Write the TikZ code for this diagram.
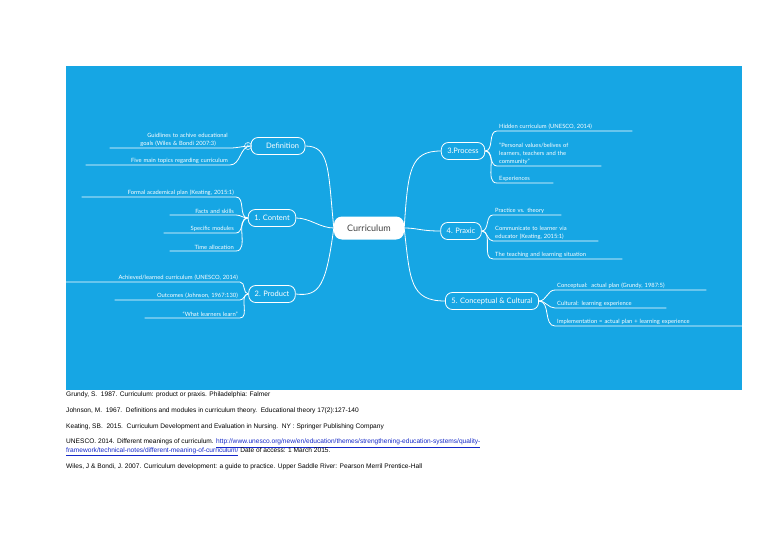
\documentclass[tikz,border=0pt]{standalone}
\usepackage{fontspec}
\setmainfont{Lato}
\newfontfamily\reffont{Liberation Sans}
\begin{document}
\begin{tikzpicture}[x=1pt,y=-1pt,
  br/.style={white,line width=0.8pt},
  topic/.style={draw=white,line width=0.8pt,rounded corners=7pt,text=white,font=\fontsize{7.5}{9}\selectfont,minimum height=17pt,inner xsep=6pt},
  leafR/.style={anchor=south west,inner xsep=2pt,inner ysep=1.5pt,text=white,font=\fontsize{5.8}{8}\selectfont,align=left},
  leafL/.style={anchor=south east,inner xsep=2pt,inner ysep=1.5pt,text=white,font=\fontsize{5.8}{8}\selectfont,align=right},
  refs/.style={anchor=north west,inner sep=0pt,font=\reffont\fontsize{6.6}{8.5}\selectfont,align=left}]
\definecolor{bg}{RGB}{22,166,228}
\definecolor{lnk}{RGB}{20,40,200}
\useasboundingbox (0,0) rectangle (768,543);
\fill[white] (0,0) rectangle (768,543);
\fill[bg] (66,66) rectangle (742,390);
% central
\node[fill=white,rounded corners=8pt,minimum width=70pt,minimum height=23pt,font=\fontsize{9}{11}\selectfont,text=black!75] (c) at (369,228) {Curriculum};
% topics
\node[topic] (def) at (278,146) {\hspace*{9pt}Definition};
\node[draw=white,circle,line width=0.5pt,inner sep=0.6pt,minimum size=7pt,text=white,font=\fontsize{5}{5}\selectfont] (ic) at (248,146) {i};
\node[topic] (con) at (272,218) {1. Content};
\node[topic] (pro) at (272,294) {2. Product};
\node[topic] (prc) at (463,151) {3.Process};
\node[topic] (prx) at (461,231) {4. Praxic};
\node[topic] (cc) at (492,301) {5. Conceptual \& Cultural};
% main connectors
\draw[br] (c.west) .. controls (328,170) and (330,146) .. (def.east);
\draw[br] (c.west) .. controls (320,228) and (310,218) .. (con.east);
\draw[br] (c.west) .. controls (326,285) and (320,297) .. (pro.east);
\draw[br] (c.east) .. controls (408,170) and (410,151) .. (prc.west);
\draw[br] (c.east) .. controls (418,228) and (420,231) .. (prx.west);
\draw[br] (c.east) .. controls (410,280) and (410,301) .. (cc.west);
% left leaves
\node[leafL,text width=116pt] (d1) at (230,148) {Guidlines to achive educational\\goals (Wiles \& Bondi 2007:3)\hspace*{12pt}};
\node[leafL,text width=140pt] (d2) at (230,165) {Five main topics regarding curriculum};
\node[leafL,text width=150pt] (n1) at (236,197) {Formal academical plan (Keating, 2015:1)};
\node[leafL,text width=62pt] (n2) at (236,215) {Facts and skills};
\node[leafL,text width=68pt] (n3) at (236,233) {Specific modules};
\node[leafL,text width=62pt] (n4) at (236,251) {Time allocation};
\node[leafL,text width=170pt] (p1) at (240,282) {Achieved/learned curriculum (UNESCO, 2014)};
\node[leafL,text width=121pt] (p2) at (240,300) {Outcomes (Johnson, 1967:130)};
\node[leafL,text width=91pt] (p3) at (240,318) {``What learners learn''};
\foreach \n/\t in {d1/def,d2/def,n1/con,n2/con,n3/con,n4/con,p1/pro,p2/pro,p3/pro}{
  \draw[br] (\n.south west) -- (\n.south east) to[out=0,in=180] (\t.west);}
% right leaves
\node[leafR,text width=131pt] (r1) at (497,131) {Hidden curriculum (UNESCO, 2014)};
\node[leafR,text width=100pt] (r2) at (497,166) {``Personal values/belives of\\learners, teachers and the\\community''};
\node[leafR,text width=52pt] (r3) at (497,183) {Experiences};
\node[leafR,text width=64pt] (x1) at (493,215) {Practice vs. theory};
\node[leafR,text width=101pt] (x2) at (493,241) {Communicate to learner via\\educator (Keating, 2015:1)};
\node[leafR,text width=125pt] (x3) at (493,259) {The teaching and learning situation};
\node[leafR,text width=147pt] (k1) at (555,290) {Conceptual:\ \ actual plan (Grundy, 1987:5)};
\node[leafR,text width=107pt] (k2) at (555,308) {Cultural: learning experience};
\node[leafR,text width=183pt] (k3) at (555,326) {Implementation = actual plan + learning experience};
\foreach \n/\t in {r1/prc,r2/prc,r3/prc,x1/prx,x2/prx,x3/prx,k1/cc,k2/cc,k3/cc}{
  \draw[br] (\t.east) to[out=0,in=180] (\n.south west) -- (\n.south east);}
% references
\node[refs] (ref1) at (66,392) {Grundy, S.\ \ 1987. Curriculum: product or praxis. Philadelphia: Falmer};
\node[refs] (ref2) at (66,408) {Johnson, M.\ \ 1967.\ \ Definitions and modules in curriculum theory.\ \ Educational theory 17(2):127-140};
\node[refs] (ref3) at (66,424) {Keating, SB.\ \ 2015.\ \ Curriculum Development and Evaluation in Nursing.\ \ NY : Springer Publishing Company};
\node[refs] (ref4) at (66,439) {UNESCO. 2014. Different meanings of curriculum. {\color{lnk}\underline{http://www.unesco.org/new/en/education/themes/strengthening-education-systems/quality-}}\\{\color{lnk}\underline{framework/technical-notes/different-meaning-of-curriculum/}} Date of access: 1 March 2015.};
\node[refs] (ref5) at (66,464) {Wiles, J \& Bondi, J. 2007. Curriculum development: a guide to practice. Upper Saddle River: Pearson Merril Prentice-Hall};
\end{tikzpicture}
\end{document}
